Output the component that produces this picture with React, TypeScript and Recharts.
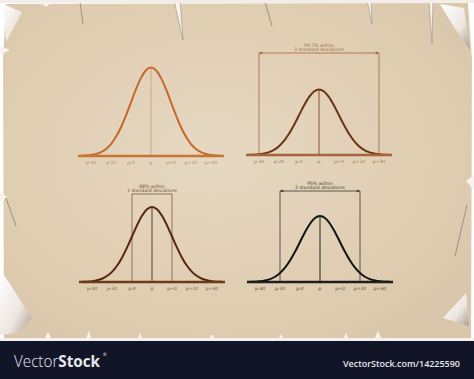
import React from 'react';
import { LineChart, Line, XAxis, YAxis, ReferenceLine } from 'recharts';

// values (same bell shape in every panel), x in sigma units
const XS = [-3.5, -3.25, -3, -2.75, -2.5, -2.25, -2, -1.75, -1.5, -1.25, -1, -0.75, -0.5, -0.25, 0,
  0.25, 0.5, 0.75, 1, 1.25, 1.5, 1.75, 2, 2.25, 2.5, 2.75, 3, 3.25, 3.5];
const DENSITY = [0.0009, 0.002, 0.0044, 0.0091, 0.0175, 0.0317, 0.054, 0.0863, 0.1295, 0.1826, 0.242, 0.3011, 0.3521, 0.3867, 0.3989,
  0.3867, 0.3521, 0.3011, 0.242, 0.1826, 0.1295, 0.0863, 0.054, 0.0317, 0.0175, 0.0091, 0.0044, 0.002, 0.0009];
const TICK_VALUES = [-3, -2, -1, 0, 1, 2, 3];
const TICK_LABELS = ['μ-3σ', 'μ-2σ', 'μ-σ', 'μ', 'μ+σ', 'μ+2σ', 'μ+3σ'];
const BRACKET_SPANS = [0, 3, 1, 2];
const BRACKET_TEXTS = [
  [],
  ['99.7% within', '3 standard deviations'],
  ['68% within', '1 standard deviations'],
  ['95% within', '2 standard deviations'],
];
const PEAK = 0.3989;

const DATA = XS.map((x, i) => ({ x, y: DENSITY[i] }));

const PANELS = [
  { mu: 151, base: 155.5, peak: 67, top: 0, arrows: false, curve: '#c4692e', axis: '#c87434', mid: '#d3a67f', bracket: '#c87434', label: '#b98253' },
  { mu: 319, base: 154.5, peak: 89, top: 52.5, arrows: true, curve: '#6b3415', axis: '#a5643a', mid: '#8a5030', bracket: '#a5643a', label: '#a0714a' },
  { mu: 152, base: 282, peak: 207, top: 194, arrows: false, curve: '#552710', axis: '#6e3a1c', mid: '#5e3e26', bracket: '#7a5c44', label: '#6e5038' },
  { mu: 320, base: 282, peak: 216, top: 191, arrows: true, curve: '#121212', axis: '#1e1e1e', mid: '#222', bracket: '#3a3631', label: '#4a4036' },
];

const FONT = 'DejaVu Sans, sans-serif';

function bracketShape(color: string, arrows: boolean, texts: string[], textColor: string) {
  return (p: any) => {
    const xa = Math.min(p.x1, p.x2);
    const xb = Math.max(p.x1, p.x2);
    const y = p.y1;
    const cx = (xa + xb) / 2;
    return (
      <g>
        <line x1={xa} y1={y} x2={xb} y2={y} stroke={color} strokeWidth={0.8} />
        {arrows ? <path d={`M${xa},${y} l3.2,-1.4 l0,2.8 z`} fill={color} /> : null}
        {arrows ? <path d={`M${xb},${y} l-3.2,-1.4 l0,2.8 z`} fill={color} /> : null}
        <text x={cx} y={y - 6.5} textAnchor="middle" fontSize={4.6} fill={textColor} fontFamily={FONT}>{texts[0]}</text>
        <text x={cx} y={y - 1.8} textAnchor="middle" fontSize={4.6} fill={textColor} fontFamily={FONT}>{texts[1]}</text>
      </g>
    );
  };
}

function Dist({ idx }: { idx: number }) {
  const c = PANELS[idx];
  const k = BRACKET_SPANS[idx];
  const W = 146, mT = 4, axisH = 14, span = 130;
  const plotTop = c.base - span;
  const scale = PEAK / (c.base - c.peak);
  const yMax = span * scale;
  const yOf = (px: number) => (c.base - px) * scale;
  return (
    <div style={{ position: 'absolute', left: c.mu - W / 2, top: plotTop - mT }}>
      <LineChart width={W} height={mT + span + axisH} data={DATA} margin={{ top: mT, right: 0, bottom: 0, left: 0 }}>
        <XAxis
          type="number"
          dataKey="x"
          domain={[-3.65, 3.65]}
          ticks={TICK_VALUES}
          interval={0}
          tickFormatter={(v: number) => TICK_LABELS[TICK_VALUES.indexOf(v)]}
          axisLine={{ stroke: c.axis, strokeWidth: 2.4 }}
          tickLine={false}
          tickSize={3}
          tickMargin={2}
          height={axisH}
          tick={{ fontSize: 4.5, fill: c.label, fontFamily: FONT }}
          allowDataOverflow
        />
        <YAxis hide type="number" domain={[0, yMax]} allowDataOverflow />
        {k ? <ReferenceLine segment={[{ x: -k, y: 0 }, { x: -k, y: yOf(c.top) }]} stroke={c.bracket} strokeWidth={0.8} /> : null}
        {k ? <ReferenceLine segment={[{ x: k, y: 0 }, { x: k, y: yOf(c.top) }]} stroke={c.bracket} strokeWidth={0.8} /> : null}
        {k ? (
          <ReferenceLine
            segment={[{ x: -k, y: yOf(c.top) }, { x: k, y: yOf(c.top) }]}
            shape={bracketShape(c.bracket, c.arrows, BRACKET_TEXTS[idx], c.label)}
          />
        ) : null}
        <ReferenceLine segment={[{ x: 0, y: 0 }, { x: 0, y: PEAK }]} stroke={c.mid} strokeWidth={1} />
        <Line type="monotone" dataKey="y" stroke={c.curve} strokeWidth={2} dot={false} isAnimationActive={false} />
      </LineChart>
    </div>
  );
}

function Paper() {
  const tear = '#f7f4f0';
  const shade = '#8c8178';
  return (
    <svg width={474} height={379} style={{ position: 'absolute', left: 0, top: 0 }}>
      <defs>
        <radialGradient id="pg" cx="0.45" cy="0.45" r="0.7">
          <stop offset="0" stopColor="#e6d8c2" />
          <stop offset="0.6" stopColor="#e0ceb3" />
          <stop offset="1" stopColor="#dac6aa" />
        </radialGradient>
        <linearGradient id="fold" x1="0" y1="0" x2="1" y2="1">
          <stop offset="0" stopColor="#ffffff" />
          <stop offset="0.6" stopColor="#ece6df" />
          <stop offset="1" stopColor="#a89c90" />
        </linearGradient>
      </defs>
      <rect x={0} y={0} width={474} height={379} fill="#ffffff" />
      <polygon points="6,4 468,3 472,60 471,338 4,339 3,60" fill="url(#pg)" />
      {/* top tears */}
      <polygon points="40,2 46,7 52,2" fill={tear} />
      <polyline points="80,2 83,24" stroke={shade} strokeWidth={0.8} fill="none" />
      <polygon points="174,0 180,0 183,40" fill={tear} stroke={shade} strokeWidth={0.5} />
      <polyline points="265,2 272,26" stroke={shade} strokeWidth={0.8} fill="none" />
      <polygon points="367,0 371,0 372,24" fill={tear} stroke={shade} strokeWidth={0.5} />
      <polygon points="429,0 433,0 432,44" fill={tear} stroke={shade} strokeWidth={0.5} />
      <polygon points="0,0 474,0 474,3 0,3" fill="#f2efeb" />
      {/* corners and side tears */}
      <polygon points="3,4 22,12 6,42" fill="url(#fold)" />
      <polygon points="0,46 10,50 0,55" fill={tear} />
      <polygon points="440,4 464,8 470,50 452,24" fill="url(#fold)" />
      <polygon points="0,192 7,197 0,202" fill={tear} />
      <polyline points="6,198 16,226" stroke={shade} strokeWidth={0.8} fill="none" />
      <polygon points="0,272 4,275 32,318 18,333 0,335" fill="url(#fold)" />
      <polygon points="474,175 466,181 474,190" fill={tear} />
      <polyline points="467,205 455,256" stroke={shade} strokeWidth={0.8} fill="none" />
      <polygon points="443,318 466,293 469,326" fill="url(#fold)" />
      {/* bottom edge */}
      <polygon points="0,338 474,338 474,342 0,342" fill="#f4f1ec" />
      <polygon points="48,332 51,338 45,338" fill={tear} />
      <polygon points="89,331 91,338 86,338" fill={tear} />
      <polygon points="140,333 142,338 138,338" fill={tear} />
      <polygon points="212,334 214,338 210,338" fill={tear} />
      <polygon points="281,334 283,338 279,338" fill={tear} />
      <polygon points="346,333 348,338 344,338" fill={tear} />
      <polygon points="378,331 381,338 375,338" fill={tear} />
      {/* footer band */}
      <rect x={0} y={341} width={474} height={38} fill="#121428" />
      <text x={14} y={367} fontSize={15.5} fill="#e8e8ec" fontFamily="Open Sans, DejaVu Sans, sans-serif" textLength={86} lengthAdjust="spacingAndGlyphs">
        <tspan fontWeight={300}>Vector</tspan>
        <tspan fontWeight={700}>Stock</tspan>
      </text>
      <text x={102.5} y={356} fontSize={4.5} fill="#e8e8ec" fontFamily="DejaVu Sans, sans-serif">®</text>
      <text x={343} y={367} fontSize={9.5} fill="#e8e8ec" fontWeight={600} fontFamily="Open Sans, DejaVu Sans, sans-serif" textLength={117} lengthAdjust="spacingAndGlyphs">
        VectorStock.com/14225590
      </text>
    </svg>
  );
}

export default function App() {
  return (
    <div style={{ position: 'fixed', left: 0, top: 0, width: 474, height: 379, overflow: 'hidden', background: '#fff' }}>
      <Paper />
      <Dist idx={0} />
      <Dist idx={1} />
      <Dist idx={2} />
      <Dist idx={3} />
    </div>
  );
}
